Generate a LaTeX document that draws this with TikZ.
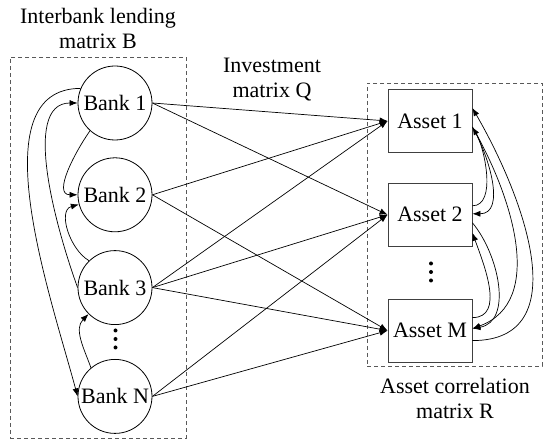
\documentclass[tikz,border=0pt]{standalone}
\usepackage{fontspec}
\setmainfont{Liberation Serif}
\usetikzlibrary{arrows.meta,positioning}

\begin{document}
\begin{tikzpicture}[
    x=1pt, y=-1pt,
    font=\fontsize{22}{25}\selectfont,
    node distance=17pt,
    bank/.style={draw, circle, minimum size=74pt, inner sep=0pt, line width=0.8pt},
    asset/.style={draw=black!75, minimum width=84pt, minimum height=63pt, inner sep=0pt, line width=0.8pt},
    group/.style={draw=black!65, dash pattern=on 4pt off 3pt, line width=0.8pt, inner sep=0pt},
    heading/.style={align=center, inner sep=0pt},
    arrow/.style={-{Latex[length=8pt,width=6pt]}, line width=0.7pt}
]
\useasboundingbox (0,0) rectangle (550,446);

% groups
\node[group, minimum width=176pt, minimum height=381pt] (bankgroup) at (98,247.5) {};
\node[group, minimum width=175pt, minimum height=283pt] (assetgroup) at (454.5,224.5) {};
\node[heading] (btitle) at (98,28) {Interbank lending\\matrix B};
\node[heading] (qtitle) at (272,80) {Investment\\matrix Q};
\node[heading] (rtitle) at (455,398) {Asset correlation\\matrix R};

% banks
\node[bank] (b1) at (115,103) {Bank 1};
\node[bank, below=17pt of b1] (b2) {Bank 2};
\node[bank, below=18pt of b2] (b3) {Bank 3};
\node[bank, below=34pt of b3] (bn) {Bank N};
\coordinate (bdots) at (115.5,339);

% assets
\node[asset] (a1) at (430,121) {Asset 1};
\node[asset, below=30pt of a1] (a2) {Asset 2};
\node[asset, below=52pt of a2] (am) {Asset M};
\coordinate (adots) at (431,272);

\foreach \c in {bdots,adots}
  \foreach \d in {-8.5,0,8.5}
    \fill ([yshift=\d pt]\c) circle (2pt);

% investment links
\draw[arrow] (b1.east) -- (a1.west);
\draw[arrow] (b1.east) -- (a2.west);
\draw[arrow] (b2.east) -- (a1.west);
\draw[arrow] (b2.east) -- (am.west);
\draw[arrow] (b3.east) -- (a1.west);
\draw[arrow] (b3.east) -- (a2.west);
\draw[arrow] (b3.east) -- (am.west);
\draw[arrow] (bn.east) -- (a2.west);
\draw[arrow] (bn.east) -- (am.west);

% interbank lending
\draw[arrow] (b1.157) to[out=180,in=105,looseness=0.85] (bn.west);
\draw[arrow] (b3.west) to[out=110,in=180,looseness=0.8] (b1.west);
\draw[arrow] (b1.228) to[out=235,in=180] (b2.west);
\draw[arrow] (b3.134) to[out=150,in=195] (b2.195);
\draw[arrow] (bn.130) to[out=110,in=225] (b3.225);

% asset correlation
\draw[arrow] ([yshift=9pt]a2.east) to[out=0,in=-60,looseness=0.8] ([yshift=-6pt]a1.east);
\draw[arrow] ([yshift=-6pt]a1.east) to[out=-60,in=0] ([yshift=1pt]a2.east);
\draw[arrow] ([yshift=13pt]am.east) to[out=0,in=-70] ([yshift=-18pt]a2.east);
\draw[arrow] ([yshift=-8pt]a2.east) to[out=-50,in=10] ([yshift=2pt]am.east);
\draw[arrow] ([yshift=-6pt]a1.east) to[out=-60,in=20] ([yshift=2pt]am.east);
\draw[arrow] ([yshift=-10pt]am.east) to[out=0,in=-60,looseness=1.15] ([yshift=13pt]a1.east);
\end{tikzpicture}
\end{document}
